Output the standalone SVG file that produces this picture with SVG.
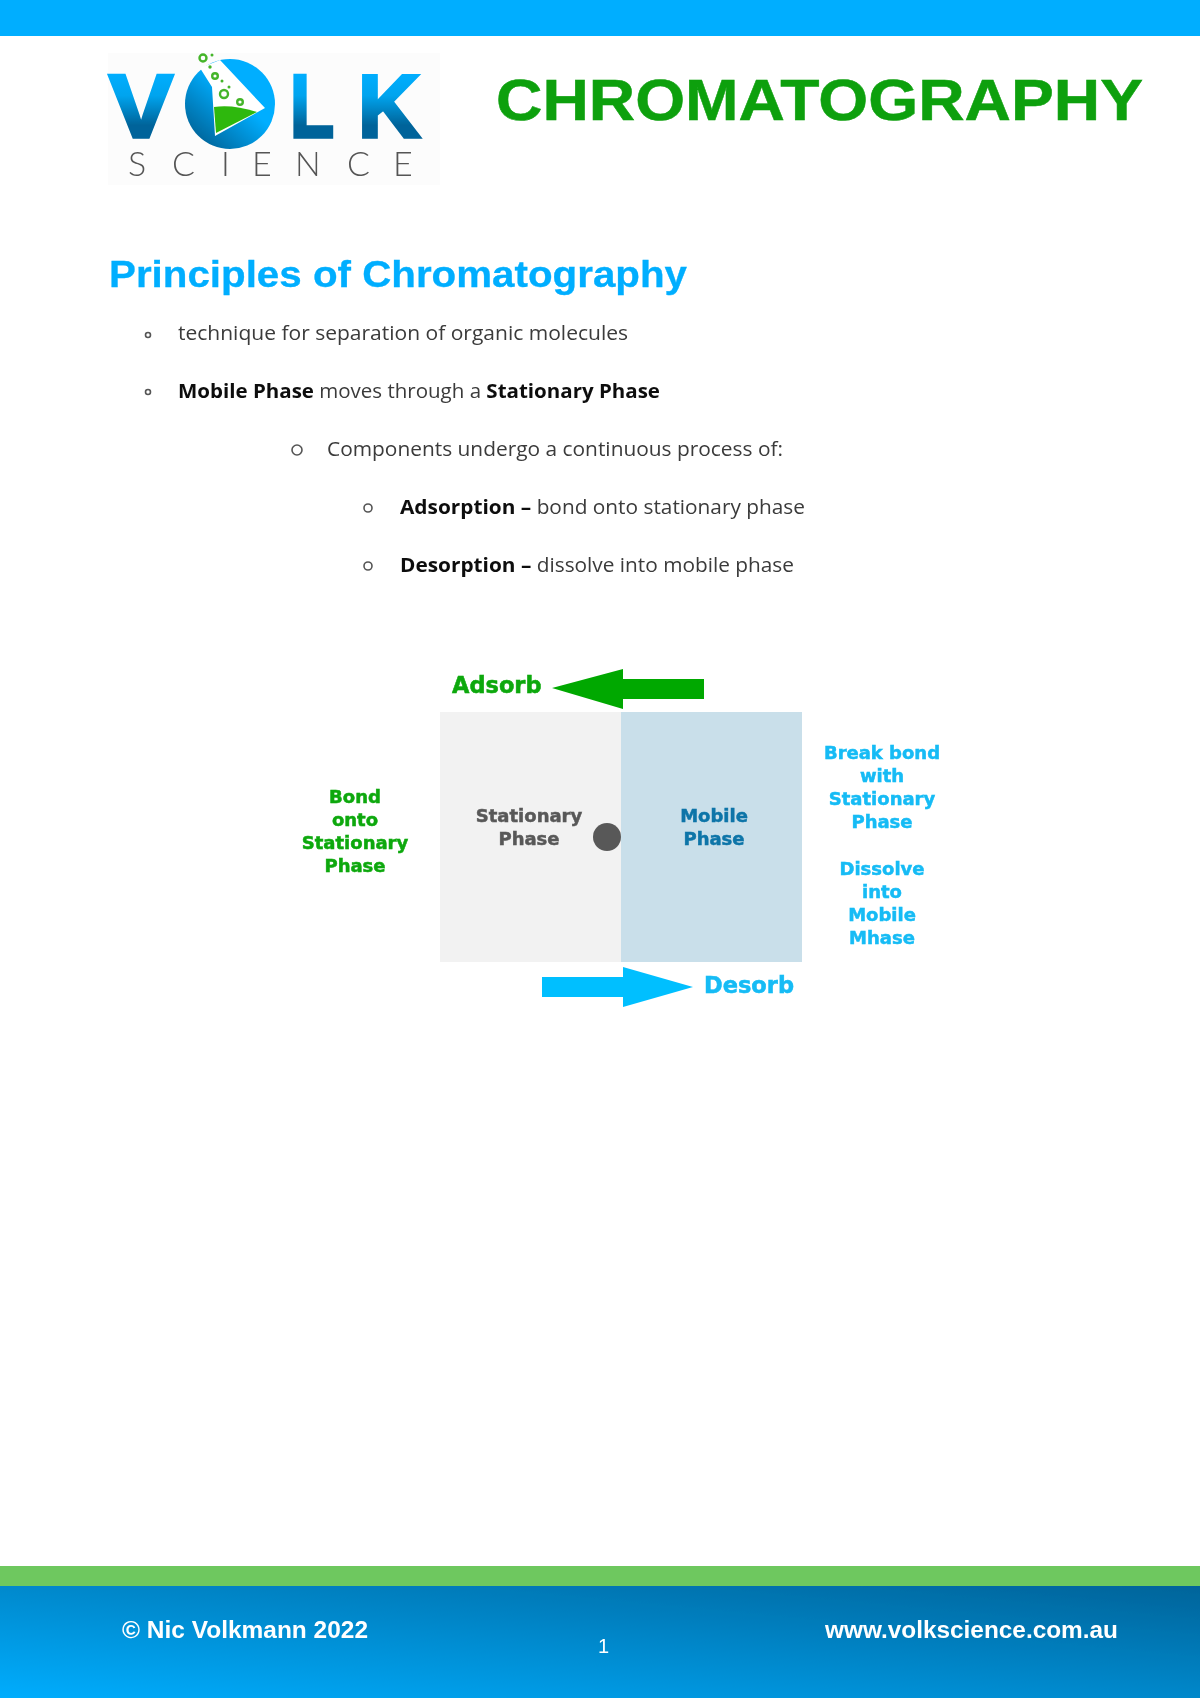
<svg xmlns="http://www.w3.org/2000/svg" width="1200" height="1698" viewBox="0 0 1200 1698">
<style>
text{font-family:"Liberation Sans",Arial,sans-serif}
.b{font-family:"Open Sans","Noto Sans",sans-serif;font-size:20px;fill:#3a3a3a}
.b tspan{font-weight:700;fill:#111}
.d{font-family:"DejaVu Sans",Verdana,sans-serif;font-weight:700;font-size:18px;text-anchor:middle;stroke-width:.5}
.l{font-size:22.5px;text-anchor:start}
.g{fill:#0aa80a;stroke:#0aa80a}.c{fill:#14bbf5;stroke:#14bbf5}
.s{fill:#595959;stroke:#595959}.m{fill:#0b74a8;stroke:#0b74a8}
.bu{fill:#fff;stroke:#555;stroke-width:1.6}
.bb{fill:#fff;stroke:#45b52a;stroke-width:2.4}
.bs{fill:#45b52a}
.lg{font-weight:700;font-size:89px;fill:url(#lgrad);stroke:url(#lgrad);stroke-width:3.5}
.ft{font-weight:700;fill:#fff;font-size:23px}
</style>
<defs>
<linearGradient id="lgrad" gradientUnits="userSpaceOnUse" x1="0" y1="73" x2="0" y2="138"><stop offset="0" stop-color="#00aeff"/><stop offset=".35" stop-color="#00a4ee"/><stop offset=".8" stop-color="#00649a"/></linearGradient>
<linearGradient id="cgrad" x1=".85" y1=".1" x2=".15" y2=".9"><stop offset=".4" stop-color="#00aeff"/><stop offset="1" stop-color="#00669c"/></linearGradient>
<linearGradient id="fgrad" x1="0" y1="1" x2="1" y2="0"><stop offset="0" stop-color="#00aeff"/><stop offset="1" stop-color="#00649a"/></linearGradient>
<filter id="soft" x="0" y="0" width="100%" height="100%"><feGaussianBlur stdDeviation=".55"/></filter>
</defs>
<rect width="1200" height="1698" fill="#fff"/>
<g filter="url(#soft)">
<rect id="top-bar" y="-4" width="1200" height="40" fill="#00aeff"/>
<g id="logo">
<rect x="108" y="53" width="332" height="132" fill="#fcfcfc"/>
<text class="lg" x="109" y="136.500" textLength="64" lengthAdjust="spacingAndGlyphs">V</text>
<circle cx="230" cy="104" r="45" fill="url(#cgrad)"/>
<polygon points="200,68 220,60 265,108 215,136 212,87" fill="#fff"/>
<path d="M214 107Q232 104 257 112L216 133Z" fill="#2fb80c"/>
<circle class="bb" cx="203" cy="58" r="3.500"/><circle class="bs" cx="212" cy="55" r="1.500"/><circle class="bs" cx="210" cy="67" r="1.700"/><circle class="bb" cx="215" cy="76" r="2.800"/><circle class="bs" cx="222" cy="81" r="1.500"/><circle class="bs" cx="229" cy="87" r="1.500"/><circle class="bb" cx="224" cy="94" r="4"/><circle class="bb" cx="240" cy="102" r="2.800"/>
<text class="lg" x="290" y="136.500" textLength="44" lengthAdjust="spacingAndGlyphs">L</text>
<text class="lg" x="358" y="136.500" textLength="62" lengthAdjust="spacingAndGlyphs">K</text>
<text x="128 172 221 252 295 347 393" y="176" style="font-family:Lato,'Liberation Sans',sans-serif;font-weight:300" font-size="34" fill="#555">SCIENCE</text>
</g>
<text id="title" x="496" y="120" font-size="58" font-weight="700" fill="#0fa010" stroke="#0fa010" stroke-width=".5" textLength="647" lengthAdjust="spacingAndGlyphs">CHROMATOGRAPHY</text>
<text id="heading" x="109" y="287" font-size="37" font-weight="700" fill="#00aeff" stroke="#00aeff" stroke-width=".3" textLength="578" lengthAdjust="spacingAndGlyphs">Principles of Chromatography</text>
<g id="bullets">
<circle class="bu" cx="148" cy="335" r="2.500"/><text class="b" x="178" y="340" textLength="450" lengthAdjust="spacingAndGlyphs">technique for separation of organic molecules</text>
<circle class="bu" cx="148" cy="392" r="2.500"/><text class="b" x="178" y="398" textLength="482" lengthAdjust="spacingAndGlyphs"><tspan>Mobile Phase</tspan> moves through a <tspan>Stationary Phase</tspan></text>
<circle class="bu" cx="297" cy="450" r="5"/><text class="b" x="327" y="456" textLength="456" lengthAdjust="spacingAndGlyphs">Components undergo a continuous process of:</text>
<circle class="bu" cx="368" cy="508" r="4"/><text class="b" x="400" y="514" textLength="405" lengthAdjust="spacingAndGlyphs"><tspan>Adsorption –</tspan> bond onto stationary phase</text>
<circle class="bu" cx="368" cy="566" r="4"/><text class="b" x="400" y="572" textLength="394" lengthAdjust="spacingAndGlyphs"><tspan>Desorption –</tspan> dissolve into mobile phase</text>
</g>
<g id="stationary-phase">
<rect x="440" y="712" width="181" height="250" fill="#f2f2f2"/>
<text class="d s" x="529" y="822">Stationary</text>
<text class="d s" x="529" y="845">Phase</text>
</g>
<g id="mobile-phase">
<rect x="621" y="712" width="181" height="250" fill="#c9dfea"/>
<text class="d m" x="714" y="822">Mobile</text>
<text class="d m" x="714" y="845">Phase</text>
</g>
<g id="molecule"><circle cx="607" cy="837" r="14" fill="#595959"/></g>
<g id="connectors">
<polygon points="552,688 623,669 623,679 704,679 704,699 623,699 623,709" fill="#05a805"/>
<polygon points="542,977 623,977 623,967 693,987 623,1007 623,997 542,997" fill="#00bfff"/>
</g>
<g id="adsorb-label"><text class="d l g" x="452" y="693">Adsorb</text></g>
<g id="desorb-label"><text class="d l c" x="704" y="993">Desorb</text></g>
<g id="bond-label">
<text class="d g" x="355" y="803">Bond</text><text class="d g" x="355" y="826">onto</text><text class="d g" x="355" y="849">Stationary</text><text class="d g" x="355" y="872">Phase</text>
</g>
<g id="break-label">
<text class="d c" x="882" y="759">Break bond</text><text class="d c" x="882" y="782">with</text><text class="d c" x="882" y="805">Stationary</text><text class="d c" x="882" y="828">Phase</text>
<text class="d c" x="882" y="875">Dissolve</text><text class="d c" x="882" y="898">into</text><text class="d c" x="882" y="921">Mobile</text><text class="d c" x="882" y="944">Mhase</text>
</g>
<g id="footer">
<rect y="1566" width="1200" height="20" fill="#6ec85f"/>
<rect y="1586" width="1200" height="116" fill="url(#fgrad)"/>
<text class="ft" x="122" y="1638" textLength="246" lengthAdjust="spacingAndGlyphs">© Nic Volkmann 2022</text>
<text class="ft" x="825" y="1638" textLength="293" lengthAdjust="spacingAndGlyphs">www.volkscience.com.au</text>
<text x="598" y="1653" font-size="20" fill="#fff">1</text>
</g>
</g>
</svg>
